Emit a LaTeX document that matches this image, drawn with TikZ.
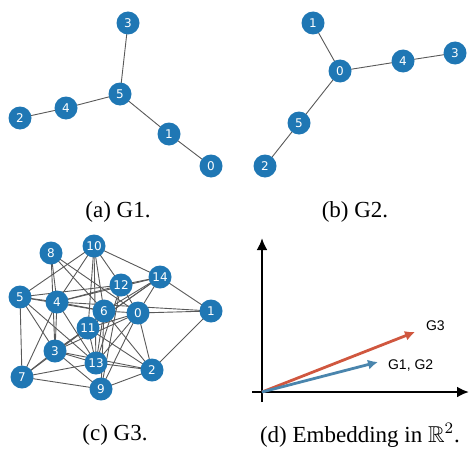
\documentclass[tikz,border=0pt]{standalone}
\usepackage{amssymb}
\usepackage{fontspec}
\setmainfont{Liberation Serif}
\newfontfamily\vertexfont{DejaVu Sans}
\newfontfamily\plotfont{Liberation Sans}
\usepackage{tikz}
\usetikzlibrary{arrows.meta,positioning,calc,backgrounds}

\definecolor{nxblue}{HTML}{1F77B4}
\definecolor{vecred}{HTML}{D0573F}
\definecolor{vecblue}{HTML}{4A85AD}

\tikzset{
    vertex/.style={circle, fill=nxblue, text=white, minimum size=11.5pt, inner sep=0pt,
        font=\vertexfont\fontsize{6}{6}\selectfont},
    edge/.style={draw=black!65, line width=0.45pt},
    caption/.style={font=\fontsize{11.5}{13}\selectfont},
    axis/.style={line width=1.4pt, -{Latex[length=6pt,width=5.5pt]}},
    vec/.style={line width=1.4pt, -{Latex[length=5pt,width=5pt]}},
}

\begin{document}
\begin{tikzpicture}[x=0.5pt, y=-0.5pt]
    \useasboundingbox (0,0) rectangle (474,449);

    % (a) G1
    \begin{scope}
        \node[vertex] (a0) at (211,166) {0};
        \node[vertex] (a1) at (169,134) {1};
        \node[vertex] (a2) at (20,118) {2};
        \node[vertex] (a3) at (128,23) {3};
        \node[vertex] (a4) at (66,108) {4};
        \node[vertex] (a5) at (120,94) {5};
        \begin{pgfonlayer}{background}
        \foreach \u/\v in {5/3, 5/4, 4/2, 5/1, 1/0}
            \draw[edge] (a\u.center) -- (a\v.center);
        \end{pgfonlayer}
        \node[caption] (capa) at (118,212) {(a) G1.};
    \end{scope}

    % (b) G2
    \begin{scope}
        \node[vertex] (b0) at (340,71) {0};
        \node[vertex] (b1) at (313,23) {1};
        \node[vertex] (b2) at (265,166) {2};
        \node[vertex] (b3) at (455,53) {3};
        \node[vertex] (b4) at (403,61) {4};
        \node[vertex] (b5) at (299,123) {5};
        \begin{pgfonlayer}{background}
        \foreach \u/\v in {0/1, 0/4, 4/3, 0/5, 5/2}
            \draw[edge] (b\u.center) -- (b\v.center);
        \end{pgfonlayer}
        \node[caption] (capb) at (355,212) {(b) G2.};
    \end{scope}

    % (c) G3
    \begin{scope}
        \node[vertex] (c0) at (138,313) {0};
        \node[vertex] (c1) at (211,311) {1};
        \node[vertex] (c2) at (152,370) {2};
        \node[vertex] (c3) at (55,351) {3};
        \node[vertex] (c4) at (57,302) {4};
        \node[vertex] (c5) at (20,297) {5};
        \node[vertex] (c6) at (104,311) {6};
        \node[vertex] (c7) at (22,377) {7};
        \node[vertex] (c8) at (51,253) {8};
        \node[vertex] (c9) at (101,389) {9};
        \node[vertex] (c10) at (94,246) {10};
        \node[vertex] (c11) at (88,328) {11};
        \node[vertex] (c12) at (121,285) {12};
        \node[vertex] (c13) at (96,363) {13};
        \node[vertex] (c14) at (160,277) {14};
        \begin{pgfonlayer}{background}
        \foreach \u/\v in {8/4, 8/3, 8/6, 8/0,
                10/5, 10/4, 10/6, 10/11, 10/13, 10/12, 10/14,
                14/12, 14/4, 14/1, 14/6, 14/11, 14/0, 14/3,
                12/5, 12/4, 12/0, 12/13, 12/9,
                5/4, 5/6, 5/3, 5/7, 5/13,
                4/6, 4/3, 4/7, 4/13, 4/1,
                0/1, 0/6, 0/2, 0/13, 0/9, 0/11, 0/3,
                1/2, 2/6, 2/13, 2/9, 2/3, 2/11,
                7/3, 7/13, 7/9, 7/11, 9/3, 9/6,
                13/3, 13/11, 13/6, 3/11, 11/6}
            \draw[edge] (c\u.center) -- (c\v.center);
        \end{pgfonlayer}
        \node[caption] (capc) at (115,435) {(c) G3.};
    \end{scope}

    % (d) embedding
    \begin{scope}
        \coordinate (orig) at (262,392);
        \coordinate (xend) at (469,392);
        \coordinate (yend) at (262,238);
        \coordinate (p3) at (415,332);
        \coordinate (p12) at (378,362);
        \draw[axis] ($(orig)+(-10,0)$) -- (xend);
        \draw[axis] ($(orig)+(0,10)$) -- (yend);
        \draw[vec, vecred] (orig) -- (p3);
        \draw[vec, vecblue] (orig) -- (p12);
        \node[font=\plotfont\fontsize{7}{8}\selectfont, anchor=west] (lab3) at (419,326) {G3};
        \node[font=\plotfont\fontsize{7}{8}\selectfont, anchor=west] (lab12) at (381,365) {G1, G2};
        \node[caption] (capd) at (360,435) {(d) Embedding in $\mathbb{R}^2$.};
    \end{scope}
\end{tikzpicture}
\end{document}
